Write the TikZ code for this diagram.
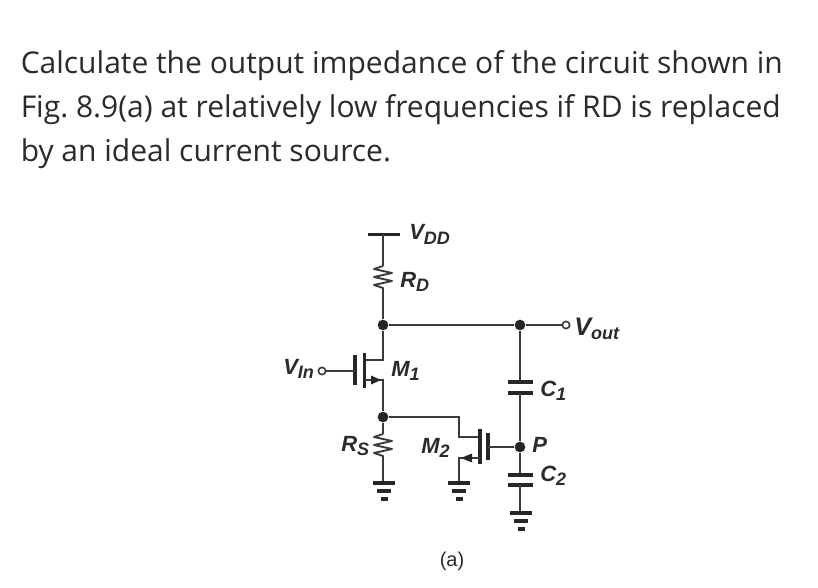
\documentclass[tikz,border=0pt]{standalone}
\usepackage{fontspec}
\setmainfont{Open Sans}
\newfontfamily\lab{Liberation Sans}
\frenchspacing
\definecolor{ink}{HTML}{2B2B2B}
\definecolor{wire}{HTML}{3A3A3A}
\tikzset{
  x=0.75pt,y=-0.75pt,
  para/.style={anchor=base west,inner sep=0pt,text=ink,font=\fontsize{22.5}{26}\selectfont},
  lbl/.style={inner sep=0pt,anchor=base west,text=ink,font=\lab\bfseries\itshape\fontsize{16.5}{18}\selectfont},
  capt/.style={inner sep=0pt,anchor=base,text=ink,font=\lab\fontsize{15}{18}\selectfont},
  wireline/.style={draw=wire,line width=2.1pt},
  thin wire/.style={draw=wire,line width=1.6pt},
  platebar/.style={draw=black!85,line width=2.4pt},
  dotnode/.style={circle,fill=black!85,inner sep=0pt,minimum size=8pt},
  opennode/.style={circle,draw=wire,fill=white,line width=1.2pt,inner sep=0pt,minimum size=5.5pt},
}
\newcommand{\gnd}[2]{%
  \draw[platebar] (#1-11,#2) -- (#1+11,#2);
  \draw[platebar] (#1-7,#2+8) -- (#1+7,#2+8);
  \draw[platebar] (#1-3.5,#2+16) -- (#1+3.5,#2+16);
}
\newcommand{\res}[3]{% x, y top, y bottom
  \draw[wire,line width=1.4pt,line join=round] (#1,#2)
   -- ++(-9,3) -- ++(18,4) -- ++(-18,4) -- ++(18,4) -- ++(-18,4) -- ++(9,3) -- (#1,#3);
}
\newcommand{\sub}[2][13.5]{\raisebox{-3pt}{\fontsize{#1}{15}\selectfont #2}}
\begin{document}
\begin{tikzpicture}
\useasboundingbox (0,0) rectangle (818,588);
\fill[white] (0,0) rectangle (818,588);
\node[para] (l1) at (20.5,74) {Calculate the output impedance of the circuit shown in};
\node[para] (l2) at (20.5,118) {Fig. 8.9(a) at relatively low frequencies if RD is replaced};
\node[para] (l3) at (20.5,162) {by an ideal current source.};
% named points
\coordinate (vdd) at (383,234);
\node[dotnode] (n1) at (383,325) {};
\node[dotnode] (n2) at (520,325) {};
\node[opennode] (vo) at (566,325) {};
\node[opennode] (vi) at (322,371) {};
\node[dotnode] (n3) at (383,417) {};
\node[dotnode] (p) at (520,447) {};
% VDD and RD
\draw[platebar] (368,234.5) -- (400,234.5);
\draw[wireline] (vdd) -- (383,266);
\res{383}{266}{292}
\draw[wireline] (383,292) -- (n1);
\draw[wireline] (n1) -- (n2) -- (vo);
% M1
\draw[wireline] (n1) -- (383,360) -- (365,360);
\draw[platebar] (364.5,353) -- (364.5,388);
\draw[platebar] (355,355) -- (355,385);
\draw[wireline] (vi) -- (355,371);
\draw[wireline] (365,380) -- (383,380) -- (n3);
\fill[black!85] (381,380) -- (371,375.5) -- (371,384.5) -- cycle;
% RS
\draw[wireline] (n3) -- (383,434);
\res{383}{434}{460}
\draw[wireline] (383,460) -- (383,483);
\gnd{384}{483}
% M2
\draw[thin wire] (n3) -- (459,417) -- (459,437) -- (480,437);
\draw[platebar] (480,429) -- (480,464);
\draw[platebar] (488,433) -- (488,460);
\draw[wireline] (488,447) -- (p);
\draw[wireline] (480,458) -- (459,458) -- (459,483);
\fill[black!85] (461,458) -- (472,453.5) -- (472,462.5) -- cycle;
\gnd{459}{483}
% C1, C2
\draw[wireline] (n2) -- (520,382);
\draw[platebar] (508,382) -- (533,382);
\draw[platebar] (508,393) -- (533,393);
\draw[wireline] (520,393) -- (p);
\draw[wireline] (p) -- (520,475);
\draw[platebar] (508,475) -- (533,475);
\draw[platebar] (508,485) -- (533,485);
\draw[wireline] (520,485) -- (520,513);
\gnd{521}{513}
% labels
\node[lbl] (tvdd) at (409,240) {V\sub{DD}};
\node[lbl] (trd) at (400,287) {R\sub{D}};
\node[lbl] (tvout) at (574,335) {\fontsize{19}{20}\selectfont V\sub{out}};
\node[lbl] (tvin) at (283,374) {V\sub{In}};
\node[lbl] (tm1) at (391,376) {M\sub{1}};
\node[lbl] (tc1) at (540,396) {C\sub{1}};
\node[lbl] (trs) at (341,451) {R\sub{S}};
\node[lbl] (tm2) at (421,453) {M\sub{2}};
\node[lbl] (tp) at (532,452) {P};
\node[lbl] (tc2) at (540,481) {C\sub{2}};
\node[capt] (ta) at (452,566) {(a)};
\end{tikzpicture}
\end{document}
